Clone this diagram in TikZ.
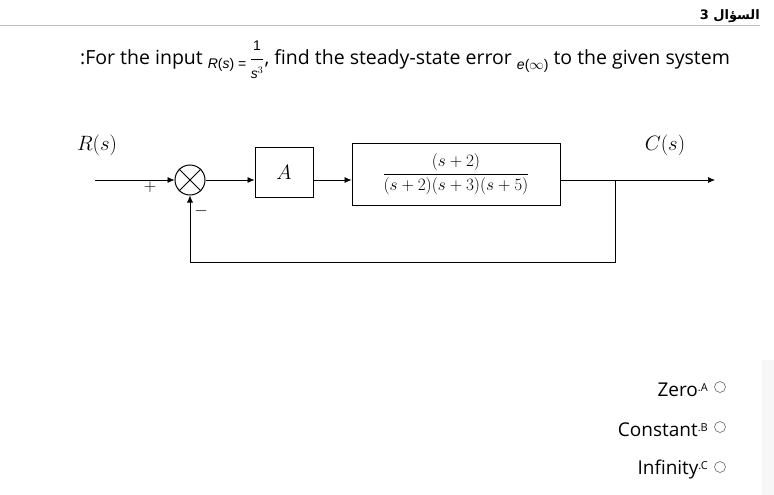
\documentclass[tikz,border=0pt]{standalone}
\usepackage{fontspec}
\setmainfont{Open Sans}
\newfontfamily\arabicfont[Script=Arabic]{DejaVu Sans}
\newfontfamily\arialf{Liberation Sans}
\TeXXeTstate=1
\usetikzlibrary{arrows.meta}
\begin{document}
\begin{tikzpicture}[x=1pt,y=-1pt,
  blk/.style={draw,line width=1pt,inner sep=0pt},
  sig/.style={line width=0.7pt,-{Latex[length=7pt,width=6pt]}},
  ln/.style={line width=0.7pt},
  opt/.style={anchor=east,inner sep=0pt,font=\fontsize{19}{21}\selectfont},
  radio/.style={draw=gray!80!black,circle,minimum size=11pt,inner sep=0pt,line width=0.6pt}]
\useasboundingbox (0,0) rectangle (774,495);
\fill[gray!6] (762,360) rectangle (774,495);
\draw[gray!50,line width=0.8pt] (0,25) -- (760,25);
\node[anchor=east,inner sep=0pt] (hdr) at (760,16) {\arabicfont\bfseries\fontsize{13}{15}\selectfont\beginR السؤال 3\endR};
\node[anchor=west,inner sep=0pt] (q) at (80,60) {\fontsize{19.5}{21}\selectfont :For the input \raisebox{-4pt}{\arialf\fontsize{14}{16}\selectfont\textit{R}(\textit{s}) =}\,$\displaystyle\frac{\mbox{\arialf\fontsize{14}{16}\selectfont 1}}{\mbox{\arialf\itshape\fontsize{14}{16}\selectfont s$^{\scriptstyle 3}$}}$, find the steady-state error \raisebox{-5pt}{\arialf\fontsize{14}{16}\selectfont\textit{e}($\infty$)} to the given system};
\node (R) at (97,145) {\fontsize{22}{24}\selectfont $R(s)$};
\node (C) at (665,145) {\fontsize{22}{24}\selectfont $C(s)$};
\coordinate (in) at (95,180);
\node[draw,circle,minimum size=30pt,inner sep=0pt,line width=1pt] (sum) at (190,180) {};
\draw[line width=1pt] (sum.north west) -- (sum.south east) (sum.north east) -- (sum.south west);
\node[blk,minimum width=58pt,minimum height=50pt] (A) at (284,172) {\fontsize{21}{23}\selectfont $A$};
\node[blk,minimum width=208pt,minimum height=62pt] (G) at (456,174) {\fontsize{18.5}{20}\selectfont $\displaystyle\frac{(s+2)}{(s+2)(s+3)(s+5)}$};
\coordinate (out) at (715,180);
\coordinate (br) at (615,180);
\coordinate (fb1) at (615,262);
\coordinate (fb2) at (190,262);
\draw[sig] (in) -- (sum.west);
\draw[sig] (sum.east) -- (A.west|-sum.east);
\draw[sig] (A.east|-sum) -- (G.west|-sum);
\draw[sig] (G.east|-sum) -- (out);
\draw[ln] (br) -- (fb1) -- (fb2);
\draw[sig] (fb2) -- (sum.south);
\node (plus) at (150,187) {\fontsize{18}{20}\selectfont $+$};
\node (minus) at (201,211) {\fontsize{18}{20}\selectfont $-$};
\node[opt] (o1) at (708,390) {Zero\raisebox{5pt}{\fontsize{11}{12}\selectfont .A}};
\node[opt] (o2) at (708,430) {Constant\raisebox{5pt}{\fontsize{11}{12}\selectfont .B}};
\node[opt] (o3) at (708,470) {Infinity\raisebox{5pt}{\fontsize{11}{12}\selectfont .C}};
\node[radio] (r1) at (720,387) {};
\node[radio] (r2) at (720,427) {};
\node[radio] (r3) at (720,467) {};
\end{tikzpicture}
\end{document}
